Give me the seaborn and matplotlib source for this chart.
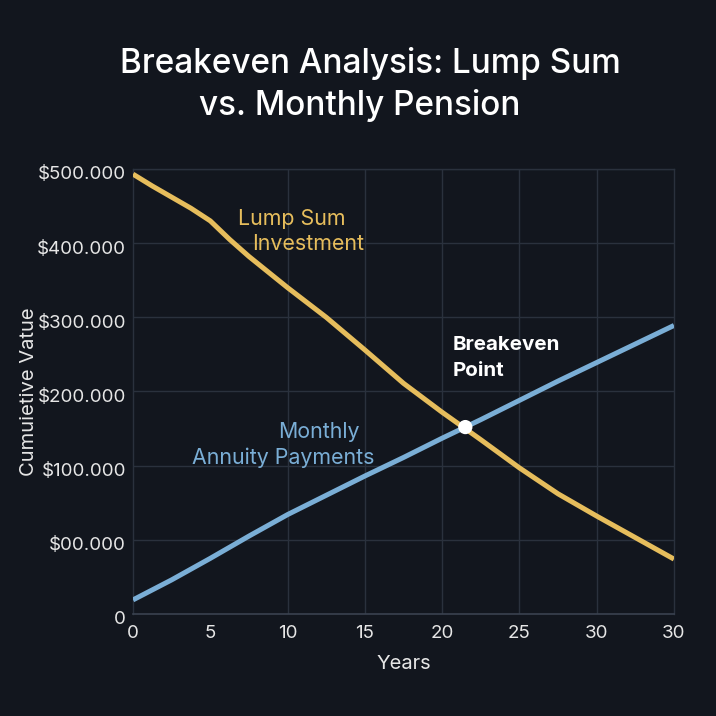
import matplotlib
matplotlib.use("Agg")
import matplotlib.pyplot as plt
import matplotlib.transforms as mtransforms
import seaborn as sns
import pandas as pd

# ---- data ----
lump_years = [0, 1.25, 2.5, 3.75, 5, 6.25, 7.5, 10, 12.5, 15, 17.5, 20, 22.5, 25,
              27.5, 30, 32.5, 35]
lump_sum = [593000, 577000, 562000, 547000, 530000, 505000, 482000, 440000, 400000,
            356000, 311000, 272000, 235000, 197000, 162000, 132000, 103000, 74000]
annuity_years = [0, 2.5, 5, 7.5, 10, 12.5, 15, 17.5, 20, 22.5, 25, 27.5, 30, 32.5, 35]
annuity = [19000, 46000, 75000, 105000, 134000, 160000, 186000, 211000, 237000,
           262000, 288000, 314000, 339000, 364000, 389000]
breakeven_x = [21.5]
breakeven_y = [252000]

x_tick_pos = [0, 5, 10, 15, 20, 25, 30, 35]
x_tick_labels = ["0", "5", "10", "15", "20", "25", "30", "30"]
y_tick_pos = [0, 100000, 200000, 300000, 400000, 500000, 600000]
y_tick_labels = ["0", "$00.000", "$100.000", "$200.000", "$300.000", "$400.000", "$500.000"]
x_grid = [10, 15, 20, 25, 30]

title_line1 = "Breakeven Analysis: Lump Sum"
title_line2 = "vs. Monthly Pension"

# ---- style ----
BG = "#12161e"
GRID = "#2a313d"
YELLOW = "#e6bd5c"
BLUE = "#7aaed6"
TXT = "#e6e6e6"

sns.set_theme(style="dark")
plt.rcParams["font.family"] = ["Inter", "DejaVu Sans"]

fig = plt.figure(figsize=(7.16, 7.16), dpi=100, facecolor=BG)
ax = fig.add_axes([0.1858, 0.1425, 0.9413 - 0.1858, 0.764 - 0.1425])
ax.set_facecolor(BG)

df_lump = pd.DataFrame({"year": lump_years, "value": lump_sum})
df_ann = pd.DataFrame({"year": annuity_years, "value": annuity})
sns.lineplot(data=df_lump, x="year", y="value", ax=ax, color=YELLOW, linewidth=3.6,
             solid_capstyle="butt", solid_joinstyle="round", zorder=3)
sns.lineplot(data=df_ann, x="year", y="value", ax=ax, color=BLUE, linewidth=3.6,
             solid_capstyle="butt", solid_joinstyle="round", zorder=3)
sns.scatterplot(x=breakeven_x, y=breakeven_y, ax=ax, color="white", s=105,
                edgecolor="none", linewidth=0, zorder=5)

ax.set_xlim(0, 35)
ax.set_ylim(0, 600000)
ax.set_xticks(x_tick_pos)
ax.set_xticklabels(x_tick_labels)
ax.set_yticks(y_tick_pos)
ax.set_yticklabels(y_tick_labels)
ax.tick_params(axis="both", length=0, labelsize=13.5, colors=TXT)
ax.tick_params(axis="x", pad=8)
ax.tick_params(axis="y", pad=5)
offset = mtransforms.ScaledTranslation(0, -4 / 100, fig.dpi_scale_trans)
for lbl in ax.get_yticklabels():
    lbl.set_transform(lbl.get_transform() + offset)
ax.grid(False)
for yv in y_tick_pos[1:]:
    ax.axhline(yv, color=GRID, linewidth=1, zorder=1)
for xv in x_grid:
    ax.axvline(xv, color=GRID, linewidth=1, zorder=1)
for s in ["left", "right", "top"]:
    ax.spines[s].set_color(GRID)
    ax.spines[s].set_linewidth(1)
ax.spines["bottom"].set_color("#3a4250")
ax.spines["bottom"].set_linewidth(1.2)

ax.set_xlabel("Years", color=TXT, fontsize=14.5, labelpad=9)
ax.set_ylabel("Cumuietive Vatue", color=TXT, fontsize=14.5, labelpad=-1)

fig.text(370 / 716, 1 - 63 / 716, title_line1, ha="center", va="center", color="white",
         fontsize=24, fontweight="medium")
fig.text(360 / 716, 1 - 105 / 716, title_line2, ha="center", va="center", color="white",
         fontsize=24, fontweight="medium")

# annotations
ax.text(6.8, 533000, "Lump Sum", color=YELLOW, fontsize=15.4, ha="left", va="center")
ax.text(7.7, 499000, "Investment", color=YELLOW, fontsize=15.4, ha="left", va="center")
ax.text(12.0, 245000, "Monthly", color=BLUE, fontsize=15.4, ha="center", va="center")
ax.text(9.7, 210000, "Annuity Payments", color=BLUE, fontsize=15.4, ha="center", va="center")
ax.text(20.7, 362000, "Breakeven", color="white", fontsize=14.8, fontweight="bold",
        ha="left", va="center")
ax.text(20.7, 328000, "Point", color="white", fontsize=14.8, fontweight="bold",
        ha="left", va="center")

fig.savefig("out.png", dpi=100, facecolor=BG)
